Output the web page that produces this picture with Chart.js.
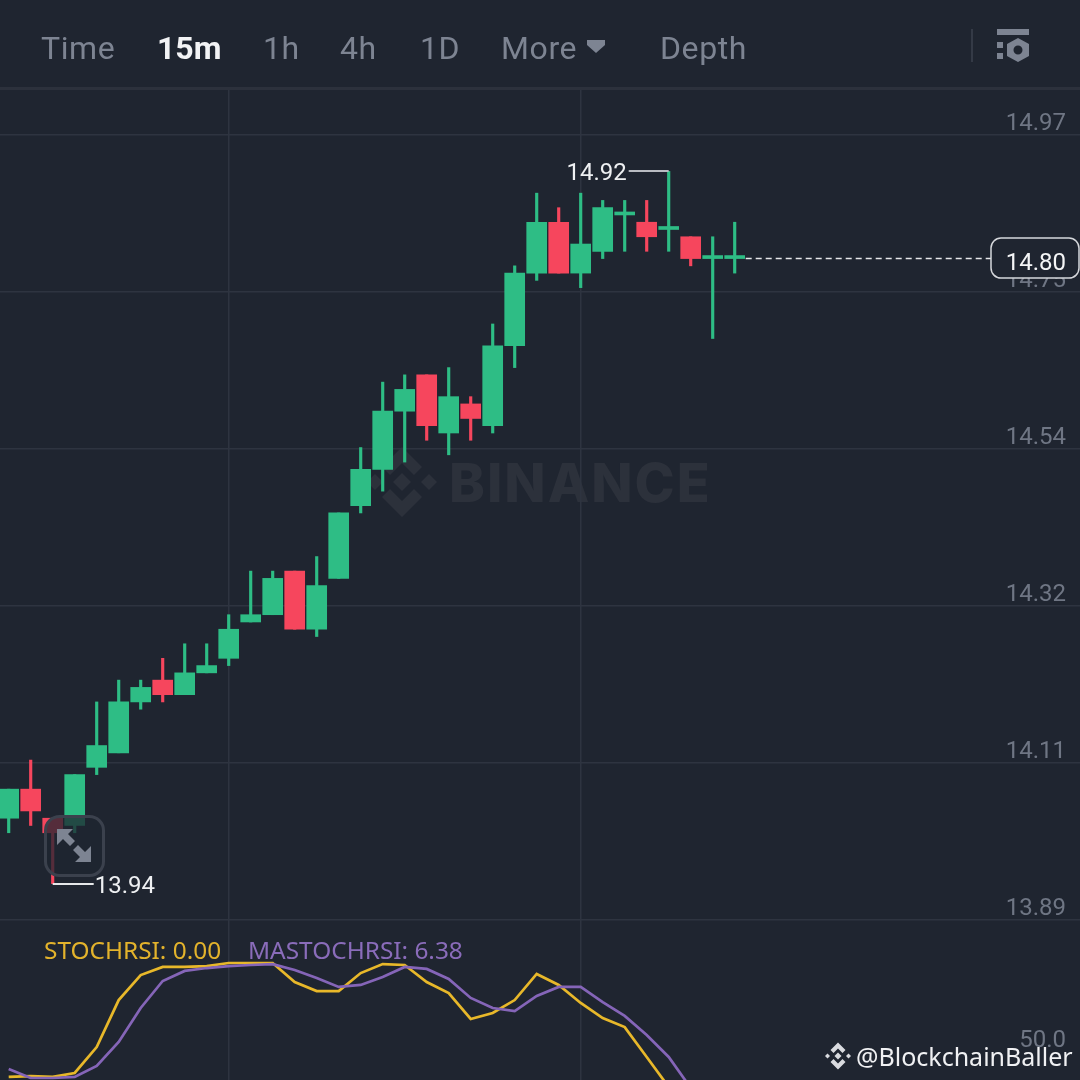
<!DOCTYPE html>
<html>
<head>
<meta charset="utf-8">
<script src="https://cdn.jsdelivr.net/npm/chart.js@4"></script>
<style>
  html, body { margin: 0; padding: 0; background: #1f2530; }
  #wrap { position: relative; width: 1080px; height: 1080px; overflow: hidden; background: #1f2530; font-family: Roboto, sans-serif; }
  #wrap span, #wrap svg { position: absolute; white-space: nowrap; }
  canvas { position: absolute; left: 0; top: 0; }
  .tab { top: 28px; font-size: 32px; line-height: 40px; letter-spacing: 0.6px; color: #7d8492; }
  .tab.on { color: #f2f3f5; font-weight: 700; letter-spacing: 0; }
  #headerLine { position: absolute; left: 0; top: 87px; width: 1080px; height: 3px; background: #2c313c; }
  #tabSep { position: absolute; left: 971px; top: 29px; width: 2px; height: 33px; background: #343a46; }
  #mark { left: 449px; top: 449px; font-family: Inter, sans-serif; font-size: 54px; line-height: 68px; font-weight: 800; letter-spacing: 2px; color: #2c313b; }
  .legend { top: 935px; font-family: "Noto Sans", sans-serif; font-size: 24.4px; line-height: 30px; }
  #handle { left: 856px; top: 1038px; font-family: "Noto Sans", sans-serif; font-size: 25px; line-height: 36px; color: #f0f1f3; }
</style>
</head>
<body>
<div id="wrap">
  <!-- watermark sits under the transparent canvas -->
  <svg style="left:366px;top:446px" width="72" height="72" viewBox="-36 -36 72 72" fill="#2c313b">
    <path d="M0 -9L9 0L0 9L-9 0Z"/><path d="M-27 -8L-19 0L-27 8L-35 0Z"/><path d="M27 -8L35 0L27 8L19 0Z"/>
    <path d="M0 -35L20 -15L12 -7L0 -19L-12 -7L-20 -15Z"/><path d="M0 35L20 15L12 7L0 19L-12 7L-20 15Z"/>
  </svg>
  <span id="mark">BINANCE</span>
  <canvas id="chart" width="1080" height="1080"></canvas>

  <span class="tab" style="left:41px">Time</span>
  <span class="tab on" style="left:157px">15m</span>
  <span class="tab" style="left:263px">1h</span>
  <span class="tab" style="left:340px">4h</span>
  <span class="tab" style="left:420px">1D</span>
  <span class="tab" style="left:501px">More</span>
  <svg style="left:586px;top:40px" width="20" height="13" viewBox="0 0 20 13"><path d="M1 0H19V5L10 13L1 5Z" fill="#7d8492"/></svg>
  <span class="tab" style="left:660px">Depth</span>
  <div id="tabSep"></div>
  <svg style="left:996px;top:29px" width="36" height="36" viewBox="0 0 36 36" fill="#7d8492">
    <rect x="1" y="0" width="32" height="6"/><rect x="1" y="13" width="6" height="6"/><rect x="1" y="24" width="6" height="6"/>
    <path fill-rule="evenodd" d="M22 9L33 15V27L22 33L11 27V15ZM22 16.500A4.500 4.500 0 1 0 22 25.500A4.500 4.500 0 1 0 22 16.500Z"/>
  </svg>
  <div id="headerLine"></div>

  <span class="legend" style="left:44px;color:#e3b32c">STOCHRSI: 0.00</span>
  <span class="legend" style="left:248px;color:#8a6cba">MASTOCHRSI: 6.38</span>

  <svg style="left:44px;top:815px" width="61" height="62" viewBox="0 0 61 62">
    <rect x="1.500" y="1.500" width="58" height="59" rx="14" fill="#1f2530" fill-opacity="0.75" stroke="#3b414d" stroke-width="3"/>
    <g fill="#7d8492">
      <path d="M13 14H29L24 19L31 26L26 31L19 24L13 30Z"/>
      <path d="M47 47H31L36 42L29 35L34 30L41 37L47 31Z"/>
    </g>
  </svg>

  <svg style="left:824px;top:1042px" width="28" height="28" viewBox="-14 -14 28 28" fill="#d9dbdf">
    <path d="M0 -3.500L3.500 0L0 3.500L-3.500 0Z"/><path d="M-10.500 -2.500L-8 0L-10.500 2.500L-13 0Z"/><path d="M10.500 -2.500L13 0L10.500 2.500L8 0Z"/>
    <path d="M0 -13.500L7.500 -6L4.500 -3L0 -7.500L-4.500 -3L-7.500 -6Z"/><path d="M0 13.500L7.500 6L4.500 3L0 7.500L-4.500 3L-7.500 6Z"/>
  </svg>
  <span id="handle">@BlockchainBaller</span>
</div>

<script>
// candle number, 0 is the leftmost one on screen
const candles = [0,1,2,3,4,5,6,7,8,9,10,11,12,13,14,15,16,17,18,19,20,21,22,23,24,25,26,27,28,29,30,31,32,33];

const opens  = [14.03,14.07,14.03,14.02,14.10,14.12,14.19,14.22,14.20,14.23,14.25,14.30,14.31,14.37,14.29,14.36,14.46,14.51,14.59,14.64,14.56,14.60,14.57,14.68,14.78,14.85,14.78,14.81,14.86,14.85,14.84,14.83,14.80,14.80];
const closes = [14.07,14.04,14.01,14.09,14.13,14.19,14.21,14.20,14.23,14.24,14.29,14.31,14.36,14.29,14.35,14.45,14.51,14.59,14.62,14.57,14.61,14.58,14.68,14.78,14.85,14.78,14.82,14.87,14.86,14.83,14.84,14.80,14.80,14.80];
const highs  = [14.07,14.11,14.03,14.09,14.19,14.22,14.22,14.25,14.27,14.27,14.31,14.37,14.37,14.37,14.39,14.45,14.54,14.63,14.64,14.64,14.65,14.61,14.71,14.79,14.89,14.87,14.89,14.88,14.88,14.88,14.92,14.83,14.83,14.85];
const lows   = [14.01,14.02,13.94,14.01,14.09,14.12,14.18,14.19,14.20,14.23,14.24,14.30,14.31,14.29,14.28,14.36,14.45,14.48,14.52,14.55,14.53,14.55,14.56,14.65,14.77,14.78,14.76,14.80,14.81,14.81,14.81,14.79,14.69,14.78];

const stochRsi   = [36.7,37.2,36.7,38.9,53.3,79.4,93.3,97.8,97.8,98.3,100,100,100,89.4,84.4,84.4,94.4,99.4,98.9,89.4,83.3,68.9,72.2,79.4,93.9,87.8,77.8,69.4,64.4,47.8,31.1,15.6,0,0];
const maStochRsi = [41.1,36.1,36.1,36.7,42.8,56.1,75,90,95.6,97.2,98.3,98.9,99.4,96.1,91.7,86.7,87.8,92.2,97.8,96.7,91.1,80.6,75,73.3,81.7,86.7,86.7,78.3,70.6,60,47.8,30.6,15.6,6.38];

const priceTicks = [14.97,14.754,14.538,14.322,14.106,13.89];
const stochTicks = [50];
const timeTicks = [10,26];

const lastPrice = 14.80;

const GREEN = "#2ebd85";
const RED = "#f6465d";
const GRID = "#2e3440";
const LABEL = "#6f7684";

const upDown = candles.map(i => closes[i] >= opens[i] ? GREEN : RED);

// price axes sit on top of the plot, they take no room of their own
function noRoom(axis) {
  axis.width = 0;
  axis.paddingTop = 0;
  axis.paddingBottom = 0;
  axis.paddingLeft = 0;
  axis.paddingRight = 0;
}

// high / low markers and the last price tag
const marksPlugin = {
  id: "marks",
  afterDatasetsDraw(chart) {
    const ctx = chart.ctx;
    const x = chart.scales.x;
    const y = chart.scales.y;

    const top = Math.max(...highs);
    const bottom = Math.min(...lows);
    const topX = x.getPixelForValue(highs.indexOf(top));
    const topY = Math.round(y.getPixelForValue(top));
    const bottomX = x.getPixelForValue(lows.indexOf(bottom));
    const bottomY = Math.round(y.getPixelForValue(bottom));

    ctx.save();
    ctx.lineWidth = 2;
    ctx.strokeStyle = "#b9bcc2";
    ctx.beginPath();
    ctx.moveTo(topX, topY);
    ctx.lineTo(topX - 40, topY);
    ctx.stroke();
    ctx.strokeStyle = "#e6e8ea";
    ctx.beginPath();
    ctx.moveTo(bottomX, bottomY);
    ctx.lineTo(bottomX + 41, bottomY);
    ctx.stroke();

    ctx.font = "24px Roboto";
    ctx.fillStyle = "#eef0f2";
    ctx.textBaseline = "middle";
    ctx.textAlign = "right";
    ctx.fillText(top.toFixed(2), topX - 42, topY + 3);
    ctx.textAlign = "left";
    ctx.fillText(bottom.toFixed(2), bottomX + 42, bottomY + 3);

    const py = y.getPixelForValue(lastPrice);
    const lastX = x.getPixelForValue(candles.length - 1) + 11;
    ctx.strokeStyle = "#e6e8ea";
    ctx.lineWidth = 1.5;
    ctx.setLineDash([6, 4]);
    ctx.beginPath();
    ctx.moveTo(lastX, py);
    ctx.lineTo(991, py);
    ctx.stroke();
    ctx.setLineDash([]);

    ctx.beginPath();
    ctx.roundRect(991, py - 20.5, 88, 40, 10);
    ctx.fillStyle = "#1f2530";
    ctx.fill();
    ctx.strokeStyle = "#d5d7db";
    ctx.stroke();
    ctx.fillStyle = "#f4f5f6";
    ctx.textAlign = "right";
    ctx.fillText(lastPrice.toFixed(2), 1066, py + 5);
    ctx.restore();
  }
};

const chart = new Chart(document.getElementById("chart").getContext("2d"), {
  type: "bar",
  data: {
    datasets: [
      {
        label: "STOCHRSI",
        type: "line",
        yAxisID: "stoch",
        data: candles.map(i => ({ x: i, y: stochRsi[i] })),
        borderColor: "#e8b82a",
        borderWidth: 2.7,
        pointRadius: 0,
        tension: 0,
        order: 2
      },
      {
        label: "MASTOCHRSI",
        type: "line",
        yAxisID: "stoch",
        data: candles.map(i => ({ x: i, y: maStochRsi[i] })),
        borderColor: "#8565b8",
        borderWidth: 2.7,
        pointRadius: 0,
        tension: 0,
        order: 1
      },
      {
        label: "wick",
        yAxisID: "y",
        data: candles.map(i => ({ x: i, y: [lows[i], highs[i]] })),
        backgroundColor: upDown,
        barThickness: 2.5,
        grouped: false,
        order: 4
      },
      {
        label: "body",
        yAxisID: "y",
        data: candles.map(i => ({ x: i, y: [opens[i], closes[i]] })),
        backgroundColor: upDown,
        barThickness: 20,
        minBarLength: 3,
        grouped: false,
        order: 3
      }
    ]
  },
  options: {
    responsive: false,
    animation: false,
    layout: { autoPadding: false, padding: { top: 89 } },
    plugins: { legend: { display: false }, tooltip: { enabled: false } },
    scales: {
      x: {
        type: "linear",
        offset: false,
        min: -8.7 / 22,
        max: (1080 - 8.7) / 22,
        afterBuildTicks: axis => { axis.ticks = timeTicks.map(v => ({ value: v })); },
        ticks: { display: false },
        grid: { offset: false, color: GRID, lineWidth: 1.5, drawTicks: false },
        border: { display: false }
      },
      y: {
        position: "right",
        stack: "panes",
        stackWeight: 841,
        min: 13.8762,
        max: 15.0333,
        afterBuildTicks: axis => { axis.ticks = priceTicks.map(v => ({ value: v })); },
        afterFit: noRoom,
        ticks: {
          mirror: true,
          autoSkip: false,
          padding: -14,
          labelOffset: -11,
          color: LABEL,
          font: { family: "Roboto", size: 24 },
          callback: v => v.toFixed(2)
        },
        grid: { color: GRID, lineWidth: 1.5, drawTicks: false },
        border: { display: false }
      },
      stoch: {
        position: "right",
        stack: "panes",
        stackWeight: 150,
        min: 35,
        max: 118.33,
        afterBuildTicks: axis => { axis.ticks = stochTicks.map(v => ({ value: v })); },
        afterFit: noRoom,
        ticks: {
          mirror: true,
          autoSkip: false,
          padding: -14,
          labelOffset: -12,
          color: LABEL,
          font: { family: "Roboto", size: 24 },
          callback: v => v.toFixed(1)
        },
        grid: { display: false, drawTicks: false },
        border: { display: false }
      }
    }
  },
  plugins: [marksPlugin]
});
</script>
</body>
</html>
